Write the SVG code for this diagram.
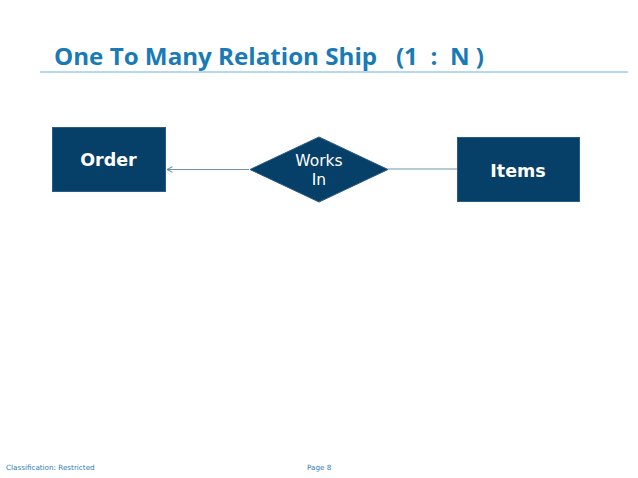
<svg xmlns="http://www.w3.org/2000/svg" width="638" height="478" viewBox="0 0 638 478">
<style>
.ent{fill:#063f68;stroke:#2b5c84;stroke-width:1}
.lbl{font-family:"DejaVu Sans",Verdana,sans-serif;fill:#ffffff;text-anchor:middle}
.conn{stroke:#6f93ad;stroke-width:1.2;fill:none}
.foot{font-family:"DejaVu Sans",Verdana,sans-serif;font-size:7.2px;fill:#2f7db5}
</style>
<defs>
<marker id="open" viewBox="0 0 10 10" refX="9" refY="5" markerWidth="7" markerHeight="7" orient="auto" markerUnits="userSpaceOnUse">
<path d="M1,1 L9,5 L1,9" fill="none" stroke="#4f7897" stroke-width="1.3"/>
</marker>
</defs>
<rect width="638" height="478" fill="#ffffff"/>
<text x="54" y="65" font-family="'Open Sans','Liberation Sans',sans-serif" font-weight="bold" font-size="24" fill="#1a7ab6" textLength="430" lengthAdjust="spacingAndGlyphs" xml:space="preserve">One To Many Relation Ship   (1  :  N )</text>
<line x1="40" y1="72" x2="628" y2="72" stroke="#6ab4dc" stroke-width="1"/>
<g id="connectors">
<line class="conn" x1="249" y1="169.5" x2="167" y2="169.5" marker-end="url(#open)"/>
<line class="conn" x1="388" y1="169" x2="457" y2="169"/>
</g>
<g id="order">
<rect class="ent" x="52.5" y="127.5" width="113" height="64"/>
<text class="lbl" x="108.5" y="166" font-size="17.5" font-weight="bold">Order</text>
</g>
<g id="works-in">
<polygon class="ent" points="319,137 388,169.5 319,202 250,169.5"/>
<text class="lbl" x="319" y="166" font-size="15.5">Works</text>
<text class="lbl" x="319" y="185" font-size="15.5">In</text>
</g>
<g id="items">
<rect class="ent" x="457.5" y="137.5" width="122" height="64"/>
<text class="lbl" x="518" y="177" font-size="17.5" font-weight="bold">Items</text>
</g>
<text class="foot" x="6" y="470">Classification: Restricted</text>
<text class="foot" x="307" y="470">Page 8</text>
</svg>
